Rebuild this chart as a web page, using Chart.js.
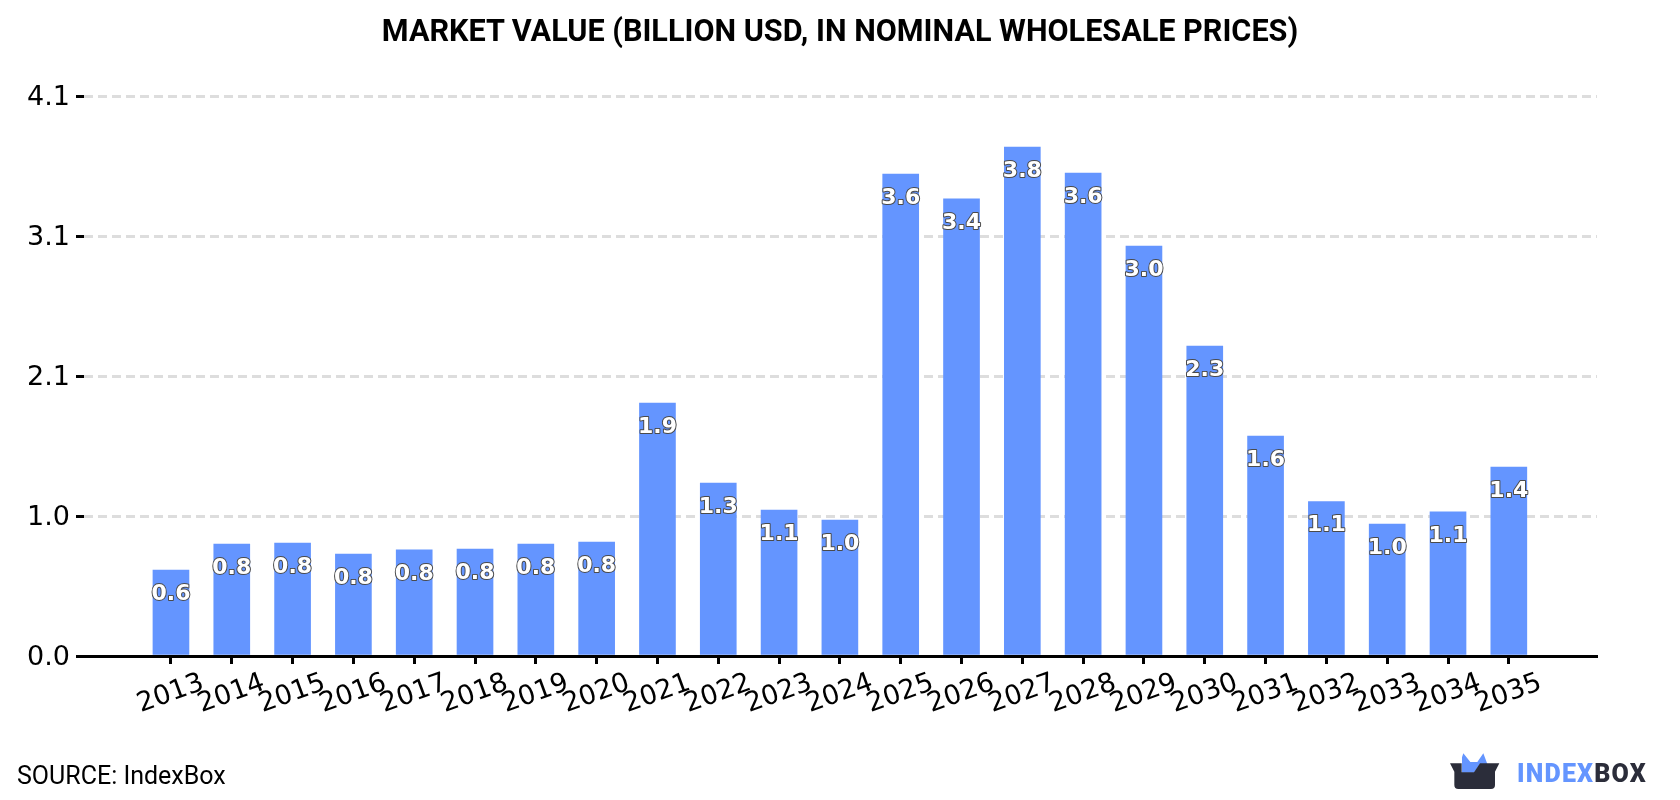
<!DOCTYPE html>
<html>
<head>
<meta charset="utf-8">
<title>Market value</title>
<script src="https://cdn.jsdelivr.net/npm/chart.js@4"></script>
<style>
  body { margin: 0; background: #fff; width: 1680px; height: 800px; overflow: hidden; position: relative; }
  canvas { position: absolute; left: 0; top: 0; }
  .title { position: absolute; left: 0; top: 13px; width: 1680px; text-align: center; font: bold 30.6px/36px Roboto, sans-serif; color: #000; }
  .source { position: absolute; left: 17px; top: 761px; font: 25px Roboto, sans-serif; color: #000; }
  .logo { position: absolute; left: 1400px; top: 730px; }
  .wordmark { position: absolute; left: 1517px; top: 759px; font: 900 25px Roboto, sans-serif; letter-spacing: 1.2px; color: #2b2d3a; }
  .wordmark span { color: #6495ff; }
</style>
</head>
<body>
<canvas id="marketChart" width="1680" height="800"></canvas>
<div class="title">MARKET VALUE (BILLION USD, IN NOMINAL WHOLESALE PRICES)</div>
<div class="source">SOURCE: IndexBox</div>
<svg class="logo" width="280" height="70" viewBox="0 0 840 210">
  <polygon fill="#6495ff" points="186,128 186,82 190,70 211,96 232,96 250,70 262,102 240,102 222,128"/>
  <path fill="#2b2d3a" d="M150,100 H185 V127 H222 L240,100 H298 L285,125 V165 Q285,177 273,177 H175 Q163,177 163,165 V125 Z"/>
</svg>
<div class="wordmark"><span>INDEX</span>BOX</div>

<script>
const years = [2013, 2014, 2015, 2016, 2017, 2018, 2019, 2020, 2021, 2022, 2023, 2024,
  2025, 2026, 2027, 2028, 2029, 2030, 2031, 2032, 2033, 2034, 2035]
const marketValue = [0.636, 0.828, 0.835, 0.754, 0.784, 0.79, 0.828, 0.843, 1.87, 1.279, 1.079, 1.005,
  3.563, 3.379, 3.763, 3.571, 3.031, 2.292, 1.626, 1.142, 0.976, 1.065, 1.397]
const valueTicks = [0, 1.035, 2.07, 3.105, 4.14]

// value printed inside the top of each bar, white with a dark outline
const barLabels = {
  id: 'barLabels',
  afterDatasetsDraw(chart) {
    const ctx = chart.ctx
    ctx.save()
    ctx.font = 'bold 22px "DejaVu Sans"'
    ctx.textAlign = 'center'
    ctx.textBaseline = 'middle'
    ctx.lineJoin = 'round'
    ctx.lineWidth = 2
    ctx.strokeStyle = '#4a4a4a'
    ctx.fillStyle = '#fff'
    chart.getDatasetMeta(0).data.forEach((bar, i) => {
      const text = marketValue[i].toFixed(1)
      ctx.strokeText(text, bar.x, bar.y + 24)
      ctx.fillText(text, bar.x, bar.y + 24)
    })
    ctx.restore()
  }
}

new Chart(document.getElementById('marketChart'), {
  type: 'bar',
  data: {
    datasets: [{
      data: years.map((year, i) => ({ x: year, y: marketValue[i] })),
      backgroundColor: '#6495ff',
      barThickness: 36
    }]
  },
  plugins: [barLabels],
  options: {
    responsive: false,
    animation: false,
    layout: { padding: { left: 0, right: 83, top: 96, bottom: 64 } },
    plugins: {
      legend: { display: false },
      tooltip: { enabled: false }
    },
    scales: {
      x: {
        type: 'linear',
        offset: false,
        min: 2011.57,
        max: 2036.45,
        afterBuildTicks(scale) {
          scale.ticks = years.map(value => ({ value }))
        },
        afterFit(scale) {
          scale.height = 80
        },
        grid: { offset: false, drawOnChartArea: false, tickColor: '#000', tickWidth: 3, tickLength: 8 },
        border: { color: '#000', width: 3 },
        ticks: {
          autoSkip: false,
          minRotation: 20,
          maxRotation: 20,
          labelOffset: 32,
          color: '#000',
          font: { family: 'DejaVu Sans', size: 27 },
          callback: value => String(value)
        }
      },
      y: {
        min: 0,
        max: 4.14,
        afterBuildTicks(scale) {
          scale.ticks = valueTicks.map(value => ({ value }))
        },
        afterFit(scale) {
          scale.width = 84
        },
        grid: {
          color: '#dddddd',
          lineWidth: 3,
          tickColor: '#000',
          tickWidth: 3,
          tickLength: 8,
          tickBorderDash: []
        },
        border: { display: false, dash: [9, 5] },
        ticks: {
          color: '#000',
          padding: 6,
          labelOffset: 2,
          font: { family: 'DejaVu Sans', size: 27 },
          callback: value => value.toFixed(1)
        }
      }
    }
  }
})
</script>
</body>
</html>
